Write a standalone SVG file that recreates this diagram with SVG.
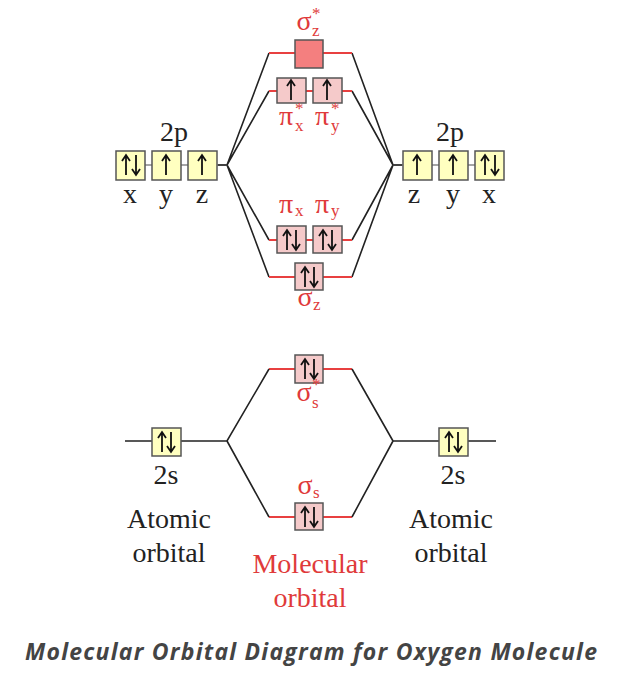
<svg xmlns="http://www.w3.org/2000/svg" xmlns:xlink="http://www.w3.org/1999/xlink" width="621" height="700" viewBox="0 0 621 700">
<style>
.y{fill:#ffffc0;stroke:#555;stroke-width:1.5}
.p{fill:#f5caca;stroke:#555;stroke-width:1.5}
.k{fill:none;stroke:#222;stroke-width:1.6}
.r{fill:none;stroke:#e84040;stroke-width:1.8}
.g{fill:none;stroke:#888;stroke-width:1.5}
.t{font-family:"Liberation Serif",serif;font-size:28px;fill:#222;text-anchor:middle}
.m{font-family:"Liberation Serif",serif;font-size:28px;fill:#e03a3a;text-anchor:middle}
.s{font-family:"Liberation Serif",serif;font-size:17px;fill:#e03a3a}
.cap{font-family:"Open Sans",sans-serif;font-style:italic;font-weight:bold;font-size:23px;fill:#444}
</style>
<defs>
<g id="up"><path d="M0 10V-10M-4 -4L0 -10L4 -4" fill="none" stroke="#111" stroke-width="1.8"/></g>
<g id="dn"><path d="M0 -10V10M-4 4L0 10L4 4" fill="none" stroke="#111" stroke-width="1.8"/></g>
</defs>
<g id="connectors">
<path class="k" d="M227 165L269 53M227 165L269 91M227 165L269 240M227 165L269 277M393 165L352 53M393 165L352 91M393 165L352 240M393 165L352 277"/>
<path class="r" d="M269 53H352M269 91H352M269 240H352M269 277H352M269 369H352M269 517H352"/>
<path class="g" d="M133 165H227M393 165H490"/>
<path class="k" d="M218 165H227M393 165H402"/>
<path class="k" d="M125 441H227L269 369M227 441L269 517M393 441L352 369M393 441L352 517M393 441H496"/>
</g>
<g id="left2p">
<rect class="y" x="116" y="151" width="29" height="29"/><use href="#up" x="126" y="165"/><use href="#dn" x="136" y="165"/>
<rect class="y" x="152" y="151" width="29" height="29"/><use href="#up" x="166" y="165"/>
<rect class="y" x="188" y="151" width="29" height="29"/><use href="#up" x="202" y="165"/>
<text class="t" x="174" y="141">2p</text>
<text class="t" x="130" y="203">x</text><text class="t" x="166" y="203">y</text><text class="t" x="202" y="203">z</text>
</g>
<g id="right2p">
<rect class="y" x="403" y="151" width="29" height="29"/><use href="#up" x="417" y="165"/>
<rect class="y" x="439" y="151" width="29" height="29"/><use href="#up" x="453" y="165"/>
<rect class="y" x="475" y="151" width="29" height="29"/><use href="#up" x="485" y="165"/><use href="#dn" x="495" y="165"/>
<text class="t" x="450" y="141">2p</text>
<text class="t" x="414" y="203">z</text><text class="t" x="453" y="203">y</text><text class="t" x="489" y="203">x</text>
</g>
<g id="sigmaz-star">
<rect x="295" y="40" width="28" height="28" fill="#f47f7f" stroke="#555" stroke-width="1.5"/>
<text class="m" x="304" y="30">σ</text><text class="s" x="312" y="19">*</text><text class="s" x="312" y="36">z</text>
</g>
<g id="pi-star">
<rect class="p" x="277" y="78" width="29" height="25"/><use href="#up" x="291" y="90"/>
<rect class="p" x="313" y="78" width="29" height="25"/><use href="#up" x="327" y="90"/>
<text class="m" x="286" y="125">π</text><text class="s" x="295" y="114">*</text><text class="s" x="295" y="131">x</text>
<text class="m" x="322" y="125">π</text><text class="s" x="331" y="114">*</text><text class="s" x="331" y="131">y</text>
</g>
<g id="pi">
<rect class="p" x="277" y="226" width="29" height="27"/><use href="#up" x="287" y="240"/><use href="#dn" x="296" y="240"/>
<rect class="p" x="313" y="226" width="29" height="27"/><use href="#up" x="323" y="240"/><use href="#dn" x="332" y="240"/>
<text class="m" x="286" y="213">π</text><text class="s" x="295" y="216">x</text>
<text class="m" x="322" y="213">π</text><text class="s" x="331" y="216">y</text>
</g>
<g id="sigmaz">
<rect class="p" x="295" y="263" width="28" height="27"/><use href="#up" x="305" y="277"/><use href="#dn" x="314" y="277"/>
<text class="m" x="305" y="306">σ</text><text class="s" x="313" y="310">z</text>
</g>
<g id="sigmas-star">
<rect class="p" x="295" y="355" width="28" height="28"/><use href="#up" x="305" y="369"/><use href="#dn" x="314" y="369"/>
<text class="m" x="304" y="401">σ</text><text class="s" x="312" y="390">*</text><text class="s" x="312" y="408">s</text>
</g>
<g id="sigmas">
<rect class="p" x="295" y="503" width="28" height="27"/><use href="#up" x="305" y="517"/><use href="#dn" x="314" y="517"/>
<text class="m" x="305" y="494">σ</text><text class="s" x="313" y="498">s</text>
</g>
<g id="left2s">
<rect class="y" x="152" y="428" width="29" height="28"/><use href="#up" x="162" y="442"/><use href="#dn" x="171" y="442"/>
<text class="t" x="166" y="484">2s</text>
<text class="t" x="169" y="528">Atomic</text><text class="t" x="169" y="562">orbital</text>
</g>
<g id="right2s">
<rect class="y" x="439" y="428" width="29" height="28"/><use href="#up" x="449" y="442"/><use href="#dn" x="458" y="442"/>
<text class="t" x="453" y="484">2s</text>
<text class="t" x="451" y="528">Atomic</text><text class="t" x="451" y="562">orbital</text>
</g>
<g id="molecular-label">
<text class="m" x="310" y="573">Molecular</text><text class="m" x="310" y="607">orbital</text>
</g>
<text class="cap" x="25" y="660" textLength="572" lengthAdjust="spacing">Molecular Orbital Diagram for Oxygen Molecule</text>
</svg>
